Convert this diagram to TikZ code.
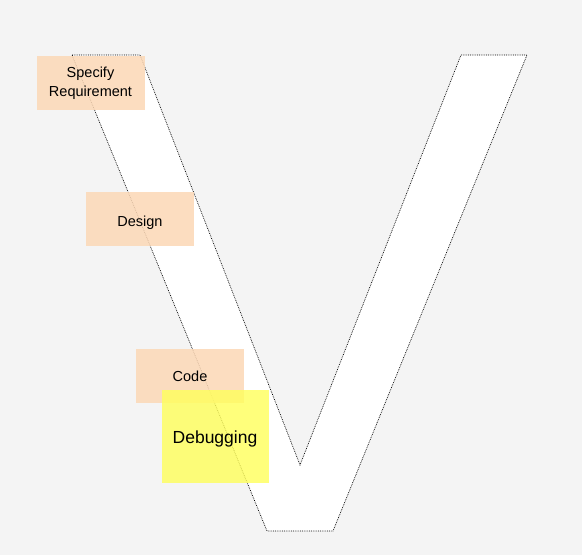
\documentclass[tikz,border=0pt]{standalone}
\usepackage{fontspec}
\setmainfont{Liberation Sans}
\usepackage{xcolor}
\usepackage{tikz}
\usetikzlibrary{positioning}

\definecolor{bggray}{RGB}{244,244,244}
\definecolor{peach}{RGB}{252,216,182}
\definecolor{lemon}{RGB}{255,255,90}

\begin{document}
\begin{tikzpicture}[x=1pt, y=-1pt,
    stage/.style={fill=peach, fill opacity=0.85, text opacity=1, minimum width=108pt, minimum height=54pt, inner sep=0pt, align=center, font=\fontsize{14.5}{20}\selectfont},
    debug/.style={fill=lemon, fill opacity=0.8, text opacity=1, minimum width=107pt, minimum height=93pt, inner sep=0pt, font=\fontsize{17.5}{19}\selectfont}]
        \fill[bggray] (0,0) rectangle (582,555);
        \useasboundingbox (0,0) rectangle (582,555);
        % the V
        \filldraw[fill=white, draw=black, line width=0.7pt, dash pattern=on 0.8pt off 1pt]
            (72,55) -- (140,55) -- (300,465) -- (461,55) -- (527,55) -- (333,531) -- (267,531) -- cycle;
        % stages
        \node[stage] (spec) at (90.5,83) {Specify\\[-0.5pt]Requirement};
        \node[stage, text height=14pt, text depth=0pt] (design) at (140,219) {Design};
        \node[stage, text height=11pt, text depth=0pt] (code) at (190,375.5) {Code};
        \node[debug, text height=14.5pt, text depth=0pt] (debugging) at (215,436) {Debugging};
    \end{tikzpicture}
\end{document}
